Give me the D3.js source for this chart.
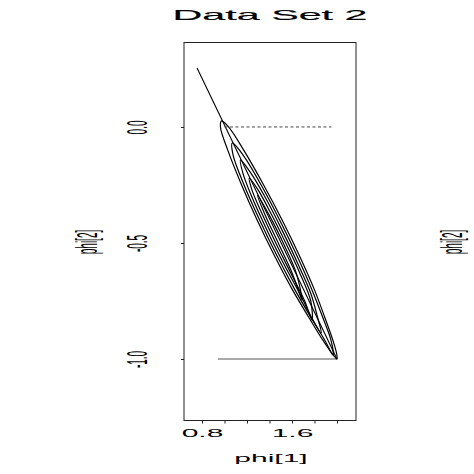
<!DOCTYPE html>
<html>
<head>
<meta charset="utf-8">
<script src="https://cdn.jsdelivr.net/npm/d3@7"></script>
<style>
  body { margin: 0; background: #fff; }
  text { font-family: "Liberation Sans", Arial, sans-serif; fill: #000; }
</style>
</head>
<body>
<svg></svg>
<script>
// axis ticks and labels
const xTicks = [0.8, 1.0, 1.2, 1.4, 1.6, 1.8, 2.0];
const xTickLabels = ['0.8', '', '', '', '1.6', '', ''];
const yTicks = [0.0, -0.5, -1.0];
const yTickLabels = ['0.0', '-0.5', '-1.0'];

// boundary lines of the region
const diagLine = [[0.756, 0.254], [2.0, -1.0]];
const bottomLine = [[0.94, -1.0], [2.0, -1.0]];
const zeroLine = [[1.0, 0.0], [1.95, 0.0]];

// contours (phi1, phi2), outer to inner
const contour1 = [
  [0.974, 0.026], [1.036, 0.0], [1.171, -0.1], [1.348, -0.25], [1.511, -0.4],
  [1.661, -0.55], [1.798, -0.7], [1.891, -0.82], [1.964, -0.92], [1.998, -0.98],
  [2.0, -1.0], [1.962, -0.98], [1.876, -0.92], [1.749, -0.82], [1.602, -0.7],
  [1.439, -0.55], [1.289, -0.4], [1.152, -0.25], [1.029, -0.1], [0.964, 0.0]
];
const contour2 = [
  [1.069, -0.069], [1.164, -0.12], [1.326, -0.25], [1.489, -0.4], [1.639, -0.55],
  [1.776, -0.7], [1.873, -0.82], [1.947, -0.92], [1.965, -0.983], [1.893, -0.92],
  [1.767, -0.82], [1.624, -0.7], [1.461, -0.55], [1.311, -0.4], [1.174, -0.25],
  [1.076, -0.12]
];
const contour3 = [
  [1.142, -0.142], [1.236, -0.2], [1.358, -0.3], [1.517, -0.45], [1.662, -0.6],
  [1.769, -0.72], [1.827, -0.82], [1.86, -0.888], [1.773, -0.82], [1.671, -0.72],
  [1.538, -0.6], [1.383, -0.45], [1.242, -0.3], [1.164, -0.2]
];
const contour4 = [
  [1.22, -0.22], [1.297, -0.27], [1.41, -0.37], [1.544, -0.5], [1.67, -0.63],
  [1.767, -0.75], [1.778, -0.832], [1.713, -0.75], [1.59, -0.63], [1.456, -0.5],
  [1.33, -0.37], [1.243, -0.27]
];
const contour5 = [
  [1.293, -0.293], [1.398, -0.38], [1.522, -0.5], [1.638, -0.63], [1.689, -0.746],
  [1.602, -0.63], [1.478, -0.5], [1.362, -0.38]
];
const contours = [contour1, contour2, contour3, contour4, contour5];

const width = 474;
const height = 474;
const stretch = 3; // text in the original is stretched horizontally

const svg = d3.select('svg')
  .attr('width', width)
  .attr('height', height);

const xScale = d3.scaleLinear()
  .domain([0.64, 2.169])
  .range([184, 356]);

const yScale = d3.scaleLinear()
  .domain([0.364, -1.265])
  .range([42.5, 420.5]);

const line = d3.line()
  .x((d) => xScale(d[0]))
  .y((d) => yScale(d[1]));

// plot box
svg.append('rect')
  .attr('x', xScale.range()[0])
  .attr('y', yScale.range()[0])
  .attr('width', xScale.range()[1] - xScale.range()[0])
  .attr('height', yScale.range()[1] - yScale.range()[0])
  .attr('fill', 'none')
  .attr('stroke', '#222')
  .attr('stroke-width', 1);

// x axis
const xAxis = svg.append('g')
  .attr('transform', `translate(0,${yScale.range()[1]})`)
  .call(d3.axisBottom(xScale)
    .tickValues(xTicks)
    .tickSize(3)
    .tickFormat((d, i) => xTickLabels[i]));
xAxis.select('.domain').remove();
xAxis.selectAll('line').attr('stroke', '#222');
xAxis.selectAll('text')
  .attr('y', 16.5)
  .attr('dy', 0)
  .attr('font-size', 10)
  .attr('font-family', '"Liberation Sans", Arial, sans-serif')
  .attr('transform', `scale(${stretch},1)`);

// y axis
const yAxis = svg.append('g')
  .attr('transform', `translate(${xScale.range()[0]},0)`)
  .call(d3.axisLeft(yScale)
    .tickValues(yTicks)
    .tickSize(3)
    .tickFormat((d, i) => yTickLabels[i]));
yAxis.select('.domain').remove();
yAxis.selectAll('line').attr('stroke', '#222');
yAxis.selectAll('text')
  .attr('x', null)
  .attr('dy', null)
  .attr('text-anchor', 'middle')
  .attr('font-size', 10)
  .attr('font-family', '"Liberation Sans", Arial, sans-serif')
  .attr('transform', `translate(-37,0) scale(${stretch},1) rotate(-90)`);

// title and axis titles
svg.append('text')
  .attr('text-anchor', 'middle')
  .attr('font-size', 14)
  .attr('stroke', '#000')
  .attr('stroke-width', 0.15)
  .attr('textLength', 65)
  .attr('lengthAdjust', 'spacingAndGlyphs')
  .attr('transform', `translate(270,20) scale(${stretch},1)`)
  .text('Data Set 2');

svg.append('text')
  .attr('text-anchor', 'middle')
  .attr('font-size', 10)
  .attr('transform', `translate(271,462) scale(${stretch},1)`)
  .text('phi[1]');

svg.append('text')
  .attr('text-anchor', 'middle')
  .attr('font-size', 10)
  .attr('transform', `translate(97,242) scale(${stretch},1) rotate(-90)`)
  .text('phi[2]');

// ylab of the neighbouring panel, cut off at the right edge
svg.append('text')
  .attr('text-anchor', 'middle')
  .attr('font-size', 10)
  .attr('transform', `translate(462,242) scale(${stretch},1) rotate(-90)`)
  .text('phi[2]');

// region boundaries
svg.append('path')
  .datum(diagLine)
  .attr('d', line)
  .attr('fill', 'none')
  .attr('stroke', '#000')
  .attr('stroke-width', 1.1);

svg.append('path')
  .datum(bottomLine)
  .attr('d', line)
  .attr('fill', 'none')
  .attr('stroke', '#555')
  .attr('stroke-width', 1.2);

svg.append('path')
  .datum(zeroLine)
  .attr('d', line)
  .attr('fill', 'none')
  .attr('stroke', '#444')
  .attr('stroke-width', 1)
  .attr('stroke-dasharray', '3,2.5');

// contours
svg.selectAll('path.contour')
  .data(contours)
  .enter()
  .append('path')
    .attr('class', 'contour')
    .attr('d', d3.line()
      .x((d) => xScale(d[0]))
      .y((d) => yScale(d[1]))
      .curve(d3.curveCatmullRomClosed.alpha(0.5)))
    .attr('fill', 'none')
    .attr('stroke', '#000')
    .attr('stroke-width', 1.2);
</script>
</body>
</html>
